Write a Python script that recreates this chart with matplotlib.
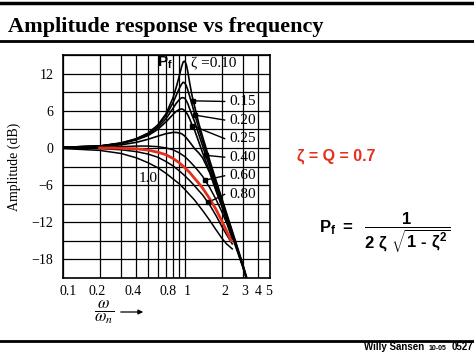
import numpy as np
import matplotlib.pyplot as plt
from matplotlib.lines import Line2D
from matplotlib.ticker import NullFormatter
from matplotlib.transforms import ScaledTranslation

plt.rcParams['mathtext.fontset'] = 'custom'
plt.rcParams['mathtext.rm'] = 'Liberation Sans:bold'
plt.rcParams['mathtext.it'] = 'Liberation Sans:bold'
plt.rcParams['mathtext.bf'] = 'Liberation Sans:bold'

SERIF = 'Liberation Serif'
SANS = 'Liberation Sans'

# omega / omega_n, fine around the resonance for the low damping curves
u_fine = [0.1, 0.2, 0.3, 0.4, 0.5, 0.6, 0.7, 0.8, 0.85, 0.9, 0.94, 0.97, 1.0, 1.03,
          1.06, 1.1, 1.15, 1.2, 1.3, 1.4, 1.6, 1.8, 2.0, 2.3, 2.6, 3.0, 3.4]
db_010 = [0.1, 0.3, 0.8, 1.5, 2.4, 3.7, 5.5, 8.1, 9.8, 11.6, 13.1, 13.9, 14.0, 13.4,
          12.2, 10.3, 8.3, 6.8, 4.0, 1.8, -2.0, -5.2, -8.0, -11.7, -15.0, -18.9, -22.5]
db_015 = [0.1, 0.3, 0.8, 1.4, 2.3, 3.6, 5.2, 7.3, 8.5, 9.6, 10.3, 10.6, 10.5, 10.0,
          9.3, 8.2, 6.9, 5.6, 3.2, 1.1, -2.5, -5.6, -8.3, -12.0, -15.2, -19.0, -22.6]
db_020 = [0.1, 0.3, 0.7, 1.4, 2.2, 3.3, 4.7, 6.4, 7.2, 7.8, 8.1, 8.1, 8.0, 7.6,
          7.1, 6.2, 5.2, 4.3, 2.2, 0.3, -3.1, -6.1, -8.7, -12.3, -15.4, -19.1, -22.7]
db_025 = [0.1, 0.3, 0.7, 1.3, 2.0, 3.0, 4.2, 5.4, 5.9, 6.2, 6.3, 6.2, 6.0, 5.7,
          5.3, 4.6, 3.6, 2.9, 1.0, -0.8, -3.8, -6.6, -9.1, -12.6, -15.6, -19.2, -22.8]
db_040 = [0.1, 0.2, 0.5, 0.9, 1.4, 1.9, 2.3, 2.5, 2.5, 2.4, 2.3, 2.1, 1.9, 1.6,
          1.3, 0.9, 0.4, -0.1, -0.8, -1.6, -4.0, -6.9, -9.3, -12.8, -15.8, -19.3, -22.9]

# heavier damping curves
u_wide = [0.1, 0.2, 0.3, 0.4, 0.5, 0.6, 0.7, 0.8, 0.9, 1.0, 1.1, 1.2, 1.3, 1.4,
          1.6, 1.8, 2.0, 2.2, 2.45]
db_060 = [0.0, 0.1, 0.2, 0.3, 0.3, 0.2, 0.0, -0.3, -0.8, -1.4, -2.2, -3.0, -3.8, -4.6,
          -6.4, -8.3, -10.2, -12.1, -14.7]
db_080 = [0.0, -0.1, -0.3, -0.6, -1.0, -1.5, -2.2, -2.9, -3.7, -4.5, -5.3, -6.1, -6.9, -7.6,
          -9.2, -10.9, -12.6, -14.0, -15.5]
db_100 = [-0.1, -0.4, -0.9, -1.6, -2.4, -3.2, -4.1, -5.0, -5.8, -6.7, -7.6, -8.4, -9.3, -10.1,
          -11.7, -13.2, -14.5, -15.5, -16.3]

# zeta = 0.7 (red)
u_red = [0.2, 0.3, 0.4, 0.5, 0.6, 0.7, 0.8, 0.9, 1.0, 1.1, 1.2, 1.3, 1.4, 1.6, 1.8,
         2.0, 2.2, 2.4]
db_070 = [0.0, -0.05, -0.15, -0.35, -0.7, -1.1, -1.7, -2.4, -3.2, -4.0, -4.9, -5.7, -6.5,
          -8.2, -9.9, -11.7, -13.4, -15.0]

label_text = ['0.15', '0.20', '0.25', '0.40', '0.60', '0.80']
label_db = [7.5, 4.5, 1.5, -1.5, -4.5, -7.5]
mark_u = [1.17, 1.21, 1.15, 1.5, 1.47, 1.55]
mark_db = [7.6, 5.3, 3.6, -1.2, -5.2, -8.8]

xticks = [0.1, 0.2, 0.4, 0.8, 1, 2, 3, 4, 5]
xtick_labels = ['0.1', '0.2', '0.4', '0.8', '1', '2', '3', '4', '5']
xminor = [0.3, 0.5, 0.6, 0.7, 0.9]
yticks = [-18, -12, -6, 0, 6, 12]
yminor = [-21, -15, -9, -3, 3, 9, 15]

fig = plt.figure(figsize=(4.74, 3.53), dpi=100)
ax = fig.add_axes([63 / 474, 75 / 353, 207 / 474, 223 / 353])

ax.set_xscale('log')
ax.set_xlim(0.1, 5)
ax.set_ylim(-21, 15)
ax.set_xticks(xticks, xtick_labels)
ax.set_xticks(xminor, minor=True)
ax.xaxis.set_minor_formatter(NullFormatter())
ax.set_yticks(yticks, [str(v).replace('-', '\u2212') for v in yticks])
ax.set_yticks(yminor, minor=True)
ax.grid(which='both', color='black', lw=0.9)
ax.tick_params(which='both', length=0, labelsize=10)
ax.tick_params(axis='x', pad=5)
ax.tick_params(axis='y', pad=7)
for t in ax.get_xticklabels() + ax.get_yticklabels():
    t.set_family(SERIF)
# hand-lettered tick labels sit a little off the log positions
for lab, dx in zip(ax.get_xticklabels(), [5, -3, -3, -5, 2, 3, 2, 0, -1]):
    lab.set_transform(lab.get_transform() + ScaledTranslation(dx / 100, 0, fig.dpi_scale_trans))
for s in ax.spines.values():
    s.set_linewidth(1.2)

for db in [db_010, db_015, db_020, db_025, db_040]:
    ax.plot(u_fine, db, color='black', lw=1.2, zorder=3)
for db in [db_060, db_080, db_100]:
    ax.plot(u_wide, db, color='black', lw=1.1, zorder=3)
ax.plot(u_red, db_070, color='#e3301c', lw=2.0, zorder=4)

for mu, md, ld, lt in zip(mark_u, mark_db, label_db, label_text):
    ax.plot([mu, 2.12], [md, ld], color='black', lw=1.0, zorder=3)
    ax.plot(mu, md, 's', color='black', ms=3.5, zorder=5)
    ax.text(2.3, ld, lt, family=SERIF, fontsize=11, va='center', ha='left')

ax.text(1.125, 13.6, '\u03b6 =0.10', family=SERIF, fontsize=11, va='center', ha='left')
ax.text(0.59, 13.1, r'$P_f$', fontsize=11, va='baseline', ha='left')
ax.text(0.5, -5.0, '1.0', family=SERIF, fontsize=11, va='center', ha='center')

fig.text(14 / 474, 1 - 167 / 353, 'Amplitude (dB)', family=SERIF, fontsize=10,
         rotation=90, va='center', ha='center')
fig.text(104 / 474, 1 - 312 / 353, r'$\dfrac{\omega}{\omega_n}$', math_fontfamily='stix',
         fontsize=12, va='center', ha='center')
fig.add_artist(plt.Annotation('', xy=(146 / 474, 1 - 312 / 353), xytext=(118 / 474, 1 - 312 / 353),
                              xycoords='figure fraction',
                              arrowprops=dict(arrowstyle='-|>', color='black', lw=0.9,
                                              mutation_scale=7)))

# slide decorations
fig.text(8 / 474, 1 - 32 / 353, 'Amplitude response vs frequency', family=SERIF,
         weight='bold', fontsize=16, va='baseline', ha='left')
for y, lw in [(2.5, 2.5), (40.5, 2.0), (341, 2.0)]:
    fig.add_artist(Line2D([0, 1], [1 - y / 353] * 2, color='black', lw=lw))

fig.text(297 / 474, 1 - 156 / 353, '\u03b6 = Q = 0.7', family=SANS, weight='bold',
         fontsize=11.5, color='#e3301c', va='center', ha='left')
fig.text(319 / 474, 1 - 233 / 353,
         r'$P_f\ =\ \ \dfrac{1}{2\ \zeta\ \sqrt{1\ \text{-}\ \zeta^2}}$',
         fontsize=12, va='center', ha='left')

fig.text(473 / 474, 1 - 350 / 353, '0527', family=SANS, weight='bold', fontsize=7,
         va='baseline', ha='right')
fig.text(446 / 474, 1 - 350 / 353, '10-05', family=SANS, weight='bold', fontsize=5,
         va='baseline', ha='right')
fig.text(424 / 474, 1 - 350 / 353, 'Willy Sansen', family=SANS, weight='bold', fontsize=7,
         va='baseline', ha='right')

fig.savefig('out.png', dpi=100)
